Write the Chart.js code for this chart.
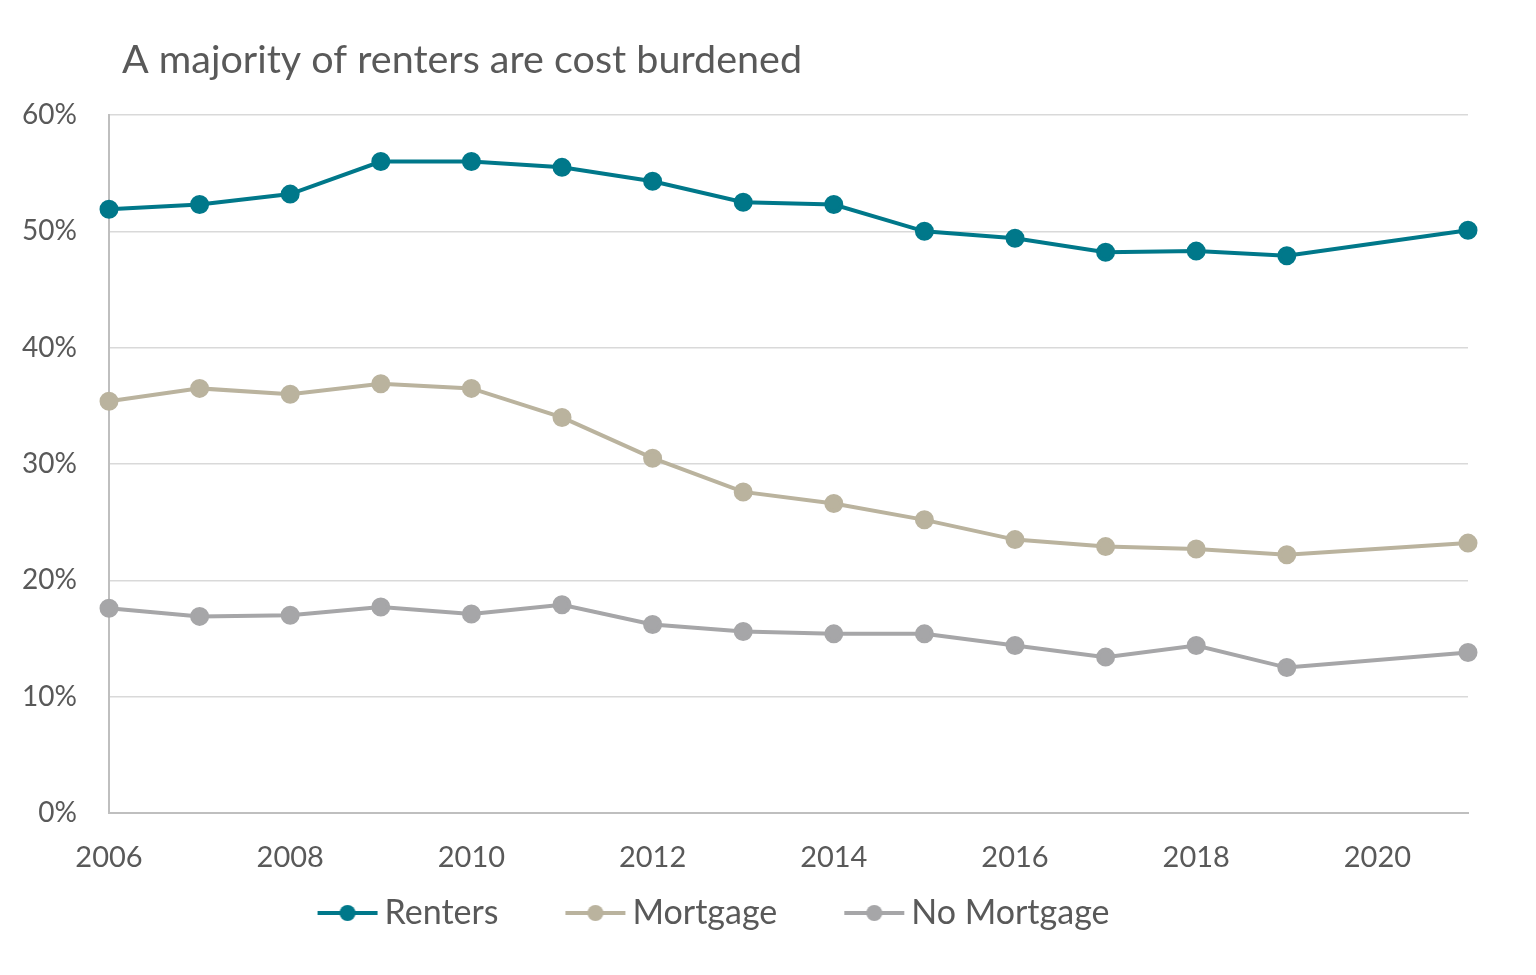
<!DOCTYPE html>
<html>
<head>
<meta charset="utf-8">
<script src="https://cdn.jsdelivr.net/npm/chart.js@4"></script>
<style>
  html, body { margin: 0; padding: 0; background: #fff; }
  #wrap { width: 1536px; height: 975px; }
</style>
</head>
<body>
<div id="wrap"><canvas id="chart" width="1536" height="975"></canvas></div>
<script>
const TITLE = 'A majority of renters are cost burdened';
const YEARS = [2006, 2007, 2008, 2009, 2010, 2011, 2012, 2013, 2014, 2015, 2016, 2017, 2018, 2019, 2021];
const RENTERS = [51.9, 52.3, 53.2, 56.0, 56.0, 55.5, 54.3, 52.5, 52.3, 50.0, 49.4, 48.2, 48.3, 47.9, 50.1];
const MORTGAGE = [35.4, 36.5, 36.0, 36.9, 36.5, 34.0, 30.5, 27.6, 26.6, 25.2, 23.5, 22.9, 22.7, 22.2, 23.2];
const NO_MORTGAGE = [17.6, 16.9, 17.0, 17.7, 17.1, 17.9, 16.2, 15.6, 15.4, 15.4, 14.4, 13.4, 14.4, 12.5, 13.8];
const LABELS = ['Renters', 'Mortgage', 'No Mortgage'];
const COLORS = ['#00788a', '#bab39e', '#a6a6a8'];

const FONT = 'Lato, "Noto Sans", sans-serif';
const TEXT_COLOR = '#595959';

// legend marker: line with a dot, drawn at the right end of a wider, mostly empty image
// so the gap between legend items comes out like the original
const MARK_W = 107;
function legendMarker(color) {
    const c = document.createElement('canvas');
    c.width = MARK_W + 22;
    c.height = 20;
    const ctx = c.getContext('2d');
    const right = c.width - 1;
    const left = right - 60;
    ctx.strokeStyle = color;
    ctx.lineWidth = 4;
    ctx.beginPath();
    ctx.moveTo(left, 10);
    ctx.lineTo(right, 10);
    ctx.stroke();
    ctx.fillStyle = color;
    ctx.beginPath();
    ctx.arc((left + right) / 2, 10, 8, 0, Math.PI * 2);
    ctx.fill();
    return c;
}

function toPoints(values) {
    return values.map((v, i) => ({x: YEARS[i], y: v}));
}

function initDataset(label, values, color) {
    return {
        label: label,
        data: toPoints(values),
        borderColor: color,
        backgroundColor: color,
        borderWidth: 4,
        pointRadius: 7.5,
        pointHoverRadius: 7.5,
        pointStyle: 'circle',
        tension: 0,
        clip: false
    };
}

const titlePlugin = {
    id: 'leftTitle',
    afterDraw(chart) {
        const ctx = chart.ctx;
        ctx.save();
        ctx.font = '39.5px ' + FONT;
        ctx.fillStyle = TEXT_COLOR;
        ctx.textBaseline = 'middle';
        ctx.fillText(TITLE, chart.chartArea.left + 13, 60);
        ctx.restore();
    }
};

// the original legend sits a bit left of centre
const legendShift = {
    id: 'legendShift',
    afterLayout(chart) {
        if (chart.legend) {
            chart.legend.left -= 49;
            chart.legend.right -= 49;
        }
    }
};

new Chart(document.getElementById('chart'), {
    type: 'line',
    data: {
        datasets: [
            initDataset(LABELS[0], RENTERS, COLORS[0]),
            initDataset(LABELS[1], MORTGAGE, COLORS[1]),
            initDataset(LABELS[2], NO_MORTGAGE, COLORS[2])
        ]
    },
    options: {
        responsive: false,
        animation: false,
        layout: {
            padding: {top: 115, right: 68, bottom: 35, left: 0}
        },
        scales: {
            x: {
                type: 'linear',
                min: 2006,
                max: 2021,
                grid: {display: false, drawTicks: false},
                border: {display: true, color: '#bfbfbf', width: 2},
                ticks: {
                    stepSize: 2,
                    includeBounds: false,
                    padding: 27,
                    color: TEXT_COLOR,
                    font: {family: FONT, size: 29},
                    maxRotation: 0,
                    callback: (v) => String(v)
                },
                afterFit: (scale) => { scale.height = 73; }
            },
            y: {
                min: 0,
                max: 60,
                grid: {color: '#d9d9d9', lineWidth: 1.5, drawTicks: false},
                border: {display: true, color: '#bfbfbf', width: 2},
                ticks: {
                    stepSize: 10,
                    padding: 32,
                    color: TEXT_COLOR,
                    font: {family: FONT, size: 28},
                    callback: (v) => v + '%'
                },
                afterFit: (scale) => { scale.width = 109; }
            }
        },
        plugins: {
            legend: {
                position: 'bottom',
                labels: {
                    usePointStyle: true,
                    pointStyleWidth: MARK_W,
                    padding: 10,
                    color: TEXT_COLOR,
                    font: {family: FONT, size: 34},
                    generateLabels(chart) {
                        return chart.data.datasets.map((ds, i) => ({
                            text: ds.label,
                            pointStyle: legendMarker(COLORS[i]),
                            fillStyle: COLORS[i],
                            strokeStyle: COLORS[i],
                            lineWidth: 0,
                            fontColor: TEXT_COLOR,
                            datasetIndex: i,
                            hidden: false
                        }));
                    }
                }
            },
            tooltip: {enabled: false}
        }
    },
    plugins: [titlePlugin, legendShift]
});
</script>
</body>
</html>
